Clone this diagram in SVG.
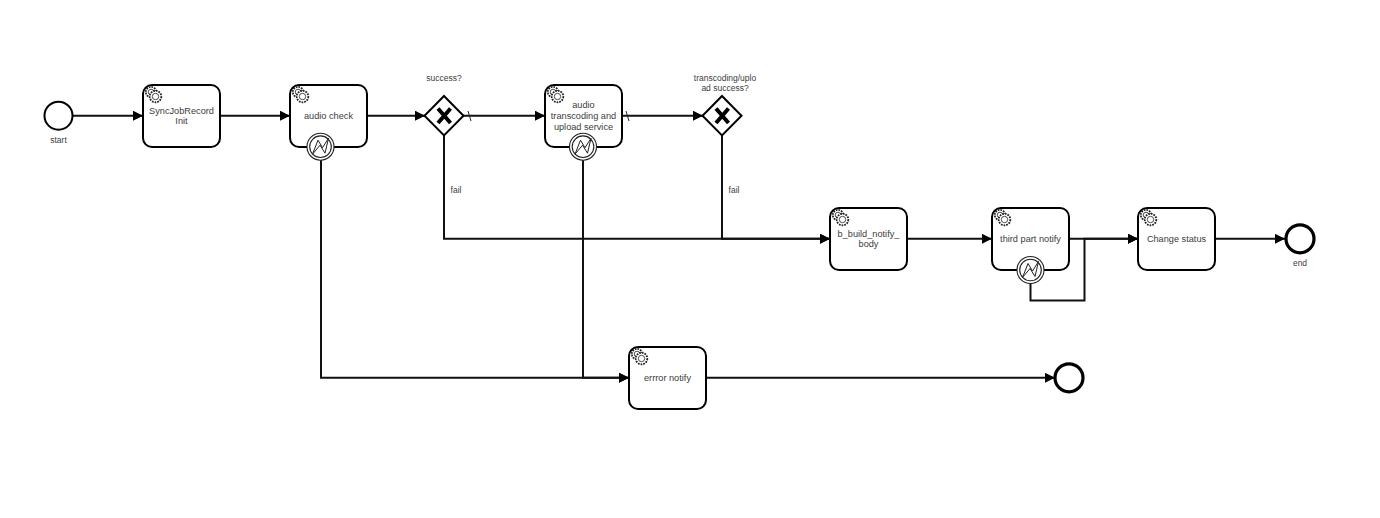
<svg xmlns="http://www.w3.org/2000/svg" width="1380" height="518" viewBox="0 0 1380 518">
<style>
text{font-family:"Liberation Sans",Arial,sans-serif;font-size:9.2px;fill:#3c3c3c;text-anchor:middle}
text.l{font-size:8.5px}
.t{fill:#fff;stroke:#000;stroke-width:2}
.c{fill:none;stroke:#111;stroke-width:2}
</style>
<defs>
<marker id="a" markerUnits="userSpaceOnUse" markerWidth="11" markerHeight="11" refX="10" refY="5" orient="auto"><path d="M0 0L10 5L0 10Z" fill="#000"/></marker>
<g id="gear">
<circle cx="-2" cy="-2" r="5.200" fill="#fff" stroke="#222" stroke-width="1.800" stroke-dasharray="1.700 1"/>
<circle cx="-2" cy="-2" r="2.800" fill="none" stroke="#222" stroke-width=".8"/>
<circle cx="2.500" cy="2.500" r="5.800" fill="#fff" stroke="#222" stroke-width="1.800" stroke-dasharray="1.700 1"/>
<circle cx="2.500" cy="2.500" r="3.200" fill="#fff" stroke="#222" stroke-width=".8"/>
</g>
<g id="err">
<circle r="13.500" fill="#fff" stroke="#222" stroke-width="1.100"/>
<circle r="10.800" fill="#fff" stroke="#222" stroke-width="1.100"/>
<path d="M-8 7.500L-2.500 -6.500L2 1L8 -8.500L4.500 6.500L-.5 -1.500Z" fill="#fff" stroke="#222" stroke-width="1"/>
</g>
</defs>
<rect width="1380" height="518" fill="#fff"/>
<g id="connectors">
<path class="c" marker-end="url(#a)" d="M73 115.700H143"/>
<path class="c" marker-end="url(#a)" d="M220 115.700H290"/>
<path class="c" marker-end="url(#a)" d="M367 115.700H425"/>
<path class="c" marker-end="url(#a)" d="M463 115.700H545"/>
<path class="c" marker-end="url(#a)" d="M622 115.700H703"/>
<path class="c" marker-end="url(#a)" d="M444 134V238.800H830"/>
<path class="c" marker-end="url(#a)" d="M722 134V238.800H830"/>
<path class="c" marker-end="url(#a)" d="M907 238.800H992"/>
<path class="c" marker-end="url(#a)" d="M1069 238.800H1138"/>
<path class="c" marker-end="url(#a)" d="M1030.500 284V300.500H1084.500V238.800H1138"/>
<path class="c" marker-end="url(#a)" d="M1215 238.800H1285"/>
<path class="c" marker-end="url(#a)" d="M321 160V377.800H629"/>
<path class="c" marker-end="url(#a)" d="M583 160V377.800H629"/>
<path class="c" marker-end="url(#a)" d="M706 377.800H1055"/>
<path d="M468 111L471 121M626 111L629 121" stroke="#222" fill="none"/>
</g>
<g id="start"><circle cx="58.500" cy="115.700" r="14" fill="#fff" stroke="#000" stroke-width="2"/><text class="l" x="58.500" y="143">start</text></g>
<g id="task1"><rect class="t" x="143" y="85" width="77" height="62" rx="9"/><use href="#gear" x="153" y="94"/><text x="181.500" y="113.500">SyncJobRecord</text><text x="181.500" y="124">Init</text></g>
<g id="task2"><rect class="t" x="290" y="85" width="77" height="62" rx="9"/><use href="#gear" x="300" y="94"/><text x="328.500" y="118.500">audio check</text><use href="#err" x="320.500" y="146.700"/></g>
<g id="gw1"><path d="M444 96L463.500 115.700L444 135.400L424.500 115.700Z" fill="#fff" stroke="#000" stroke-width="2"/><path d="M438 108.500L450.500 123M450.500 108.500L438 123" stroke="#000" stroke-width="4" fill="none"/><text class="l" x="444" y="80.500">success?</text><text class="l" x="456" y="192.500">fail</text></g>
<g id="task3"><rect class="t" x="545" y="85" width="77" height="62" rx="9"/><use href="#gear" x="555" y="94"/><text x="583.500" y="107.500">audio</text><text x="583.500" y="118.500">transcoding and</text><text x="583.500" y="129.500">upload service</text><use href="#err" x="583" y="146.700"/></g>
<g id="gw2"><path d="M722 96L741.500 115.700L722 135.400L702.500 115.700Z" fill="#fff" stroke="#000" stroke-width="2"/><path d="M716 108.500L728.500 123M728.500 108.500L716 123" stroke="#000" stroke-width="4" fill="none"/><text class="l" x="725" y="80.500">transcoding/uplo</text><text class="l" x="725" y="91">ad success?</text><text class="l" x="734" y="192.500">fail</text></g>
<g id="task4"><rect class="t" x="830" y="208" width="77" height="62" rx="9"/><use href="#gear" x="840" y="217"/><text x="868.500" y="236.500">b_build_notify_</text><text x="868.500" y="247">body</text></g>
<g id="task5"><rect class="t" x="992" y="208" width="77" height="62" rx="9"/><use href="#gear" x="1002" y="217"/><text x="1030.500" y="242">third part notify</text><use href="#err" x="1030.500" y="270"/></g>
<g id="task6"><rect class="t" x="1138" y="208" width="77" height="62" rx="9"/><use href="#gear" x="1148" y="217"/><text x="1176.500" y="242">Change status</text></g>
<g id="end"><circle cx="1300" cy="238.800" r="14" fill="#fff" stroke="#000" stroke-width="3.200"/><text class="l" x="1300" y="266">end</text></g>
<g id="task7"><rect class="t" x="629" y="347" width="77" height="62" rx="9"/><use href="#gear" x="639" y="356"/><text x="667.500" y="381">errror notify</text></g>
<g id="end2"><circle cx="1069" cy="377.800" r="14" fill="#fff" stroke="#000" stroke-width="3.200"/></g>
</svg>
